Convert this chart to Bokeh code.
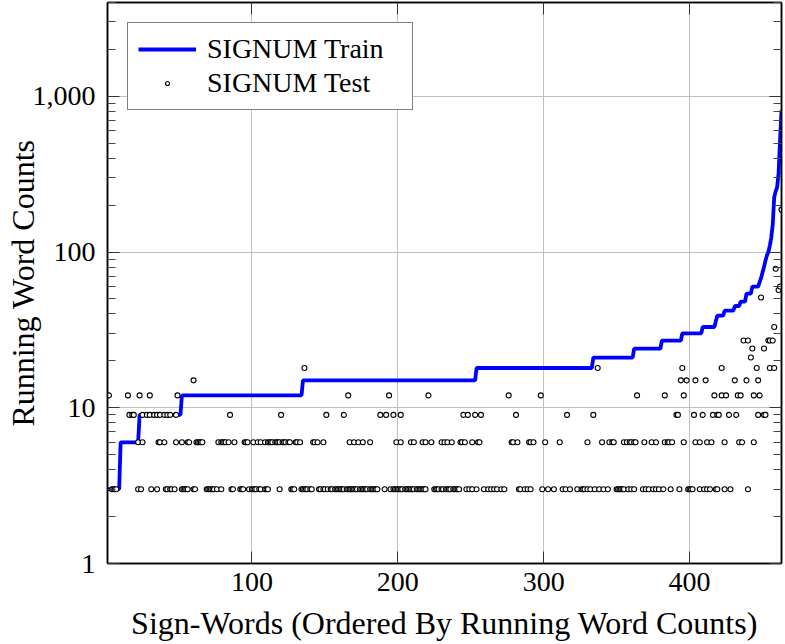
from bokeh.plotting import figure
from bokeh.models import (LogAxis, LinearAxis, FixedTicker, NumeralTickFormatter,
                          CustomJSTickFormatter, Legend, LegendItem, Range1d)
from bokeh.embed import file_html
from bokeh.resources import INLINE

# ---------------- data ----------------
# Training counts: vertices of the sorted (step) curve
train_x = [1, 9, 10, 22, 23, 51, 52, 134, 135, 253, 254, 333, 334, 361, 362, 380,
           381, 394, 395, 408, 409, 417, 418, 419, 423, 424, 430, 431, 434, 435, 438,
           439, 442, 443, 447, 448, 449, 450, 451, 452, 453, 454, 455, 456, 457, 458,
           459, 460, 461, 462, 463]
train_y = [3, 3, 6, 6, 9, 9, 12, 12, 15, 15, 18, 18, 21, 21, 24, 24,
           27, 27, 30, 30, 33, 33, 36, 39, 39, 42, 42, 45, 45, 48, 48,
           54, 54, 60, 60, 64, 68, 74, 80, 88, 95, 100, 110, 124, 150, 225,
           245, 260, 320, 520, 811]

# Test counts: sign index per count level
test_x_3 = [4, 5, 6, 7, 22, 24, 31, 35, 41, 42, 44, 45, 47, 52, 53, 54, 55, 56, 60, 61,
            69, 70, 71, 72, 73, 74, 76, 79, 86, 87, 92, 93, 94, 98, 100, 101, 102, 103,
            105, 106, 109, 110, 111, 119, 127, 128, 129, 134, 135, 136, 137, 138, 140,
            141, 146, 147, 149, 150, 152, 154, 155, 157, 158, 159, 160, 161, 162, 163,
            165, 166, 167, 168, 169, 170, 171, 172, 174, 175, 176, 177, 178, 179, 181,
            182, 183, 184, 185, 186, 191, 195, 197, 198, 199, 200, 201, 202, 203, 205,
            206, 207, 208, 209, 210, 211, 213, 214, 215, 216, 217, 218, 219, 225, 226,
            227, 228, 230, 231, 233, 234, 235, 236, 238, 239, 240, 241, 242, 247, 249,
            251, 254, 259, 262, 264, 266, 268, 271, 273, 283, 284, 287, 289, 291, 299,
            303, 307, 313, 315, 318, 323, 326, 327, 328, 330, 332, 335, 338, 341, 344,
            350, 351, 352, 353, 354, 355, 358, 360, 362, 368, 370, 372, 375, 377, 379,
            382, 387, 393, 399, 400, 401, 402, 407, 410, 412, 414, 418, 419, 424, 428,
            440]
test_x_6 = [22, 25, 36, 37, 40, 48, 52, 56, 57, 62, 63, 64, 65, 66, 77, 79, 80, 81, 82,
            84, 88, 95, 96, 97, 101, 104, 106, 109, 111, 112, 113, 114, 116, 117, 118,
            119, 121, 122, 123, 125, 126, 130, 131, 133, 142, 143, 145, 149, 167, 170,
            173, 176, 181, 199, 202, 209, 211, 217, 219, 223, 230, 232, 234, 237, 243,
            244, 246, 251, 255, 256, 278, 279, 282, 290, 291, 293, 301, 311, 330, 340,
            345, 347, 348, 355, 357, 359, 360, 362, 363, 369, 374, 377, 383, 385, 386,
            388, 396, 404, 407, 412, 415, 424, 434, 436, 444]
test_x_9 = [16, 18, 19, 25, 28, 30, 33, 35, 37, 40, 42, 44, 48, 85, 120, 151, 163, 188,
            192, 197, 202, 245, 248, 253, 257, 281, 316, 334, 391, 392, 403, 409, 416,
            419, 420, 427, 432, 447, 451, 452]
test_x_12 = [2, 15, 23, 30, 49, 166, 194, 221, 276, 298, 364, 383, 396, 417, 422, 425,
             433, 435, 444, 448]
test_x_15 = [60, 394, 398, 404, 411, 431, 439, 447]
test_x_18 = [136, 337, 395, 422, 446, 455, 458]
test_x_21 = [442]
test_x_24 = [443, 451]
test_x_27 = [437, 440, 454, 455, 457]
test_x_high = [449, 458, 459, 461, 462, 463]
test_y_high = [51, 33, 78, 57, 60, 187]

test_levels = {3: test_x_3, 6: test_x_6, 9: test_x_9, 12: test_x_12, 15: test_x_15,
               18: test_x_18, 21: test_x_21, 24: test_x_24, 27: test_x_27}

test_x, test_y = [], []
for level, xs in test_levels.items():
    test_x += xs
    test_y += [level] * len(xs)
test_x += test_x_high
test_y += test_y_high

x_ticks = [100, 200, 300, 400]
y_ticks = [1, 10, 100, 1000]

# ---------------- styling ----------------
FONT = "Liberation Serif"
y_minor = [m * d for d in (1, 10, 100, 1000) for m in range(2, 10)]

p = figure(width=785, height=644,
           x_range=Range1d(1, 463), y_range=Range1d(1, 4000),
           y_axis_type="log", output_backend="svg", toolbar_location=None,
           min_border_left=107, min_border_right=4, min_border_top=2,
           min_border_bottom=81)

p.background_fill_color = "white"
p.outline_line_color = "black"
p.outline_line_width = 1.5

xt = FixedTicker(ticks=x_ticks, minor_ticks=[])
yt = FixedTicker(ticks=y_ticks, minor_ticks=y_minor)

p.xaxis.ticker = xt
p.yaxis.ticker = yt
p.yaxis.formatter = NumeralTickFormatter(format="0,0")
p.xgrid.ticker = xt
p.ygrid.ticker = FixedTicker(ticks=y_ticks, minor_ticks=[])
p.grid.grid_line_color = "#c0c0c0"
p.grid.grid_line_width = 1

for ax in (p.xaxis[0], p.yaxis[0]):
    ax.axis_line_color = "black"
    ax.axis_line_width = 1.5
    ax.major_tick_in = 12
    ax.major_tick_out = 0
    ax.minor_tick_in = 8
    ax.minor_tick_out = 0
    ax.major_tick_line_color = "#333333"
    ax.minor_tick_line_color = "#444444"
    ax.major_label_text_font = FONT
    ax.major_label_text_font_size = "28px"
    ax.major_label_text_color = "black"
    ax.axis_label_text_font = FONT
    ax.axis_label_text_font_style = "normal"
    ax.axis_label_text_color = "black"

p.xaxis.axis_label = "Sign-Words (Ordered By Running Word Counts)"
p.xaxis.axis_label_text_font_size = "32px"
p.xaxis.major_label_standoff = 9
p.xaxis.axis_label_standoff = 11

p.yaxis.axis_label = "Running Word Counts"
p.yaxis.axis_label_text_font_size = "32px"
p.yaxis.major_label_standoff = 12
p.yaxis.axis_label_standoff = -11

blank = CustomJSTickFormatter(code="return ''")
right_ax = LogAxis(ticker=yt, formatter=blank, major_tick_in=12, major_tick_out=0,
                   minor_tick_in=8, minor_tick_out=0, major_label_standoff=-30,
                   axis_label_standoff=0,
                   major_label_text_font_size="0px", axis_line_width=1.5,
                   major_tick_line_color="#333333", minor_tick_line_color="#444444")
p.add_layout(right_ax, "right")
top_ax = LinearAxis(ticker=xt, formatter=blank, major_tick_in=12, major_tick_out=0,
                    minor_tick_out=0, major_label_standoff=-30, axis_label_standoff=0,
                    major_label_text_font_size="0px", axis_line_width=1.5,
                    major_tick_line_color="#333333")
p.add_layout(top_ax, "above")

r_train = p.line(train_x, train_y, line_color="#0000ff", line_width=3.8)
r_test = p.scatter(test_x, test_y, marker="circle", size=5, line_color="black",
                   fill_color="white", line_width=1.1)

legend = Legend(items=[LegendItem(label="SIGNUM Train", renderers=[r_train]),
                       LegendItem(label="SIGNUM Test", renderers=[r_test])],
                location=(20, 453))
legend.label_text_font = FONT
legend.label_text_font_size = "28px"
legend.label_text_color = "black"
legend.glyph_width = 58
legend.glyph_height = 10
legend.label_height = 30
legend.label_width = 195
legend.label_standoff = 11
legend.spacing = 2
legend.padding = 10
legend.margin = 0
legend.border_line_color = "black"
legend.border_line_width = 1.2
legend.background_fill_alpha = 1
p.add_layout(legend)

open("out.html", "w").write(file_html(p, INLINE))
